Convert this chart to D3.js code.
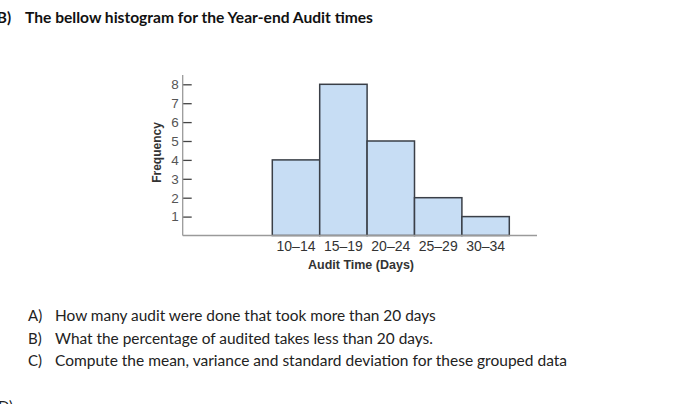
<!DOCTYPE html>
<html>
<head>
<meta charset="utf-8">
<script src="https://cdn.jsdelivr.net/npm/d3@7"></script>
<style>
  html, body { margin: 0; padding: 0; background: #fff; }
  svg { display: block; }
</style>
</head>
<body>
<svg id="chart" width="700" height="404"></svg>
<script>
// ---- data ----
const categories = ["10–14", "15–19", "20–24", "25–29", "30–34"];
const frequencies = [4, 8, 5, 2, 1];
const yTicks = [1, 2, 3, 4, 5, 6, 7, 8];
const titleText = "The bellow histogram for the Year-end Audit times";
const questionLabels = ["A)", "B)", "C)"];
const questionTexts = [
  "How many audit were done that took more than 20 days",
  "What the percentage of audited takes less than 20 days.",
  "Compute the mean, variance and standard deviation for these grouped data"
];
const questionWidths = [381, 378, 512];

const svg = d3.select("#chart");

function fitWidth(sel, target) {
  const node = sel.node();
  const fs = parseFloat(sel.attr("font-size"));
  const w = node.getComputedTextLength();
  if (w > 0) sel.attr("font-size", (fs * target / w).toFixed(2));
}

// ---- title ----
svg.append("text").attr("x", -3).attr("y", 23)
  .attr("font-family", "Lato, 'Open Sans', sans-serif").attr("font-weight", "bold")
  .attr("font-size", 15).attr("fill", "#111").text("B)");
const title = svg.append("text").attr("x", 25).attr("y", 23)
  .attr("font-family", "Lato, 'Open Sans', sans-serif").attr("font-weight", "bold")
  .attr("font-size", 15).attr("fill", "#111").text(titleText);
fitWidth(title, 348);

// ---- scales ----
const x = d3.scaleBand().domain(categories).range([272.3, 509.3]).paddingInner(0).paddingOuter(0);
const y = d3.scaleLinear().domain([0, 8]).range([235.5, 84.3]);

// ---- bars ----
svg.append("g").selectAll("rect").data(categories).join("rect")
  .attr("x", d => x(d))
  .attr("y", (d, i) => y(frequencies[i]))
  .attr("width", x.bandwidth())
  .attr("height", (d, i) => y(0) - y(frequencies[i]))
  .attr("fill", "#c7ddf4")
  .attr("stroke", "#3a3f47")
  .attr("stroke-width", 1.5);

// ---- x axis baseline ----
svg.append("line").attr("x1", 182.7).attr("x2", 537).attr("y1", y(0)).attr("y2", y(0))
  .attr("stroke", "#9a9a9a").attr("stroke-width", 1.3);
const xAxis = d3.axisBottom(x).tickSize(0).tickPadding(6);
const xg = svg.append("g").attr("transform", `translate(0,${y(0)})`).call(xAxis);
xg.select(".domain").remove();
xg.selectAll("text").attr("font-family", "'Liberation Sans', Arial, sans-serif")
  .attr("font-size", 14).attr("fill", "#333");

// ---- y axis ----
const yAxis = d3.axisRight(y).tickValues(yTicks).tickSize(9).tickFormat(d3.format("d"));
const yg = svg.append("g").attr("transform", "translate(182.7,0)").call(yAxis);
yg.select(".domain").remove();
yg.selectAll("line").attr("stroke", "#444").attr("stroke-width", 1.3);
yg.selectAll("text").attr("x", -4).attr("text-anchor", "end")
  .attr("font-family", "'Liberation Sans', Arial, sans-serif")
  .attr("font-size", 13.5).attr("fill", "#555");
svg.append("line").attr("x1", 182.7).attr("x2", 182.7).attr("y1", 75).attr("y2", y(0))
  .attr("stroke", "#9a9a9a").attr("stroke-width", 1.3);

// ---- axis titles ----
svg.append("text").attr("x", 361).attr("y", 269).attr("text-anchor", "middle")
  .attr("font-family", "'Liberation Sans', Arial, sans-serif").attr("font-weight", "bold")
  .attr("font-size", 12.5).attr("fill", "#333").text("Audit Time (Days)");
svg.append("text").attr("transform", "translate(161,152.5) rotate(-90)").attr("text-anchor", "middle")
  .attr("font-family", "'Liberation Sans', Arial, sans-serif").attr("font-weight", "bold")
  .attr("font-size", 12).attr("fill", "#333").text("Frequency");

// ---- questions ----
const baselines = [321, 344, 366];
questionLabels.forEach((lab, i) => {
  svg.append("text").attr("x", 28).attr("y", baselines[i])
    .attr("font-family", "Lato, 'Open Sans', sans-serif").attr("font-size", 15)
    .attr("fill", "#222").text(lab);
  const t = svg.append("text").attr("x", 55).attr("y", baselines[i])
    .attr("font-family", "Lato, 'Open Sans', sans-serif").attr("font-size", 15)
    .attr("fill", "#222").text(questionTexts[i]);
  fitWidth(t, questionWidths[i]);
});

// cut-off next item at the bottom edge
svg.append("text").attr("x", -2).attr("y", 412)
  .attr("font-family", "Lato, 'Open Sans', sans-serif").attr("font-size", 15)
  .attr("fill", "#222").text("D)");
</script>
</body>
</html>
